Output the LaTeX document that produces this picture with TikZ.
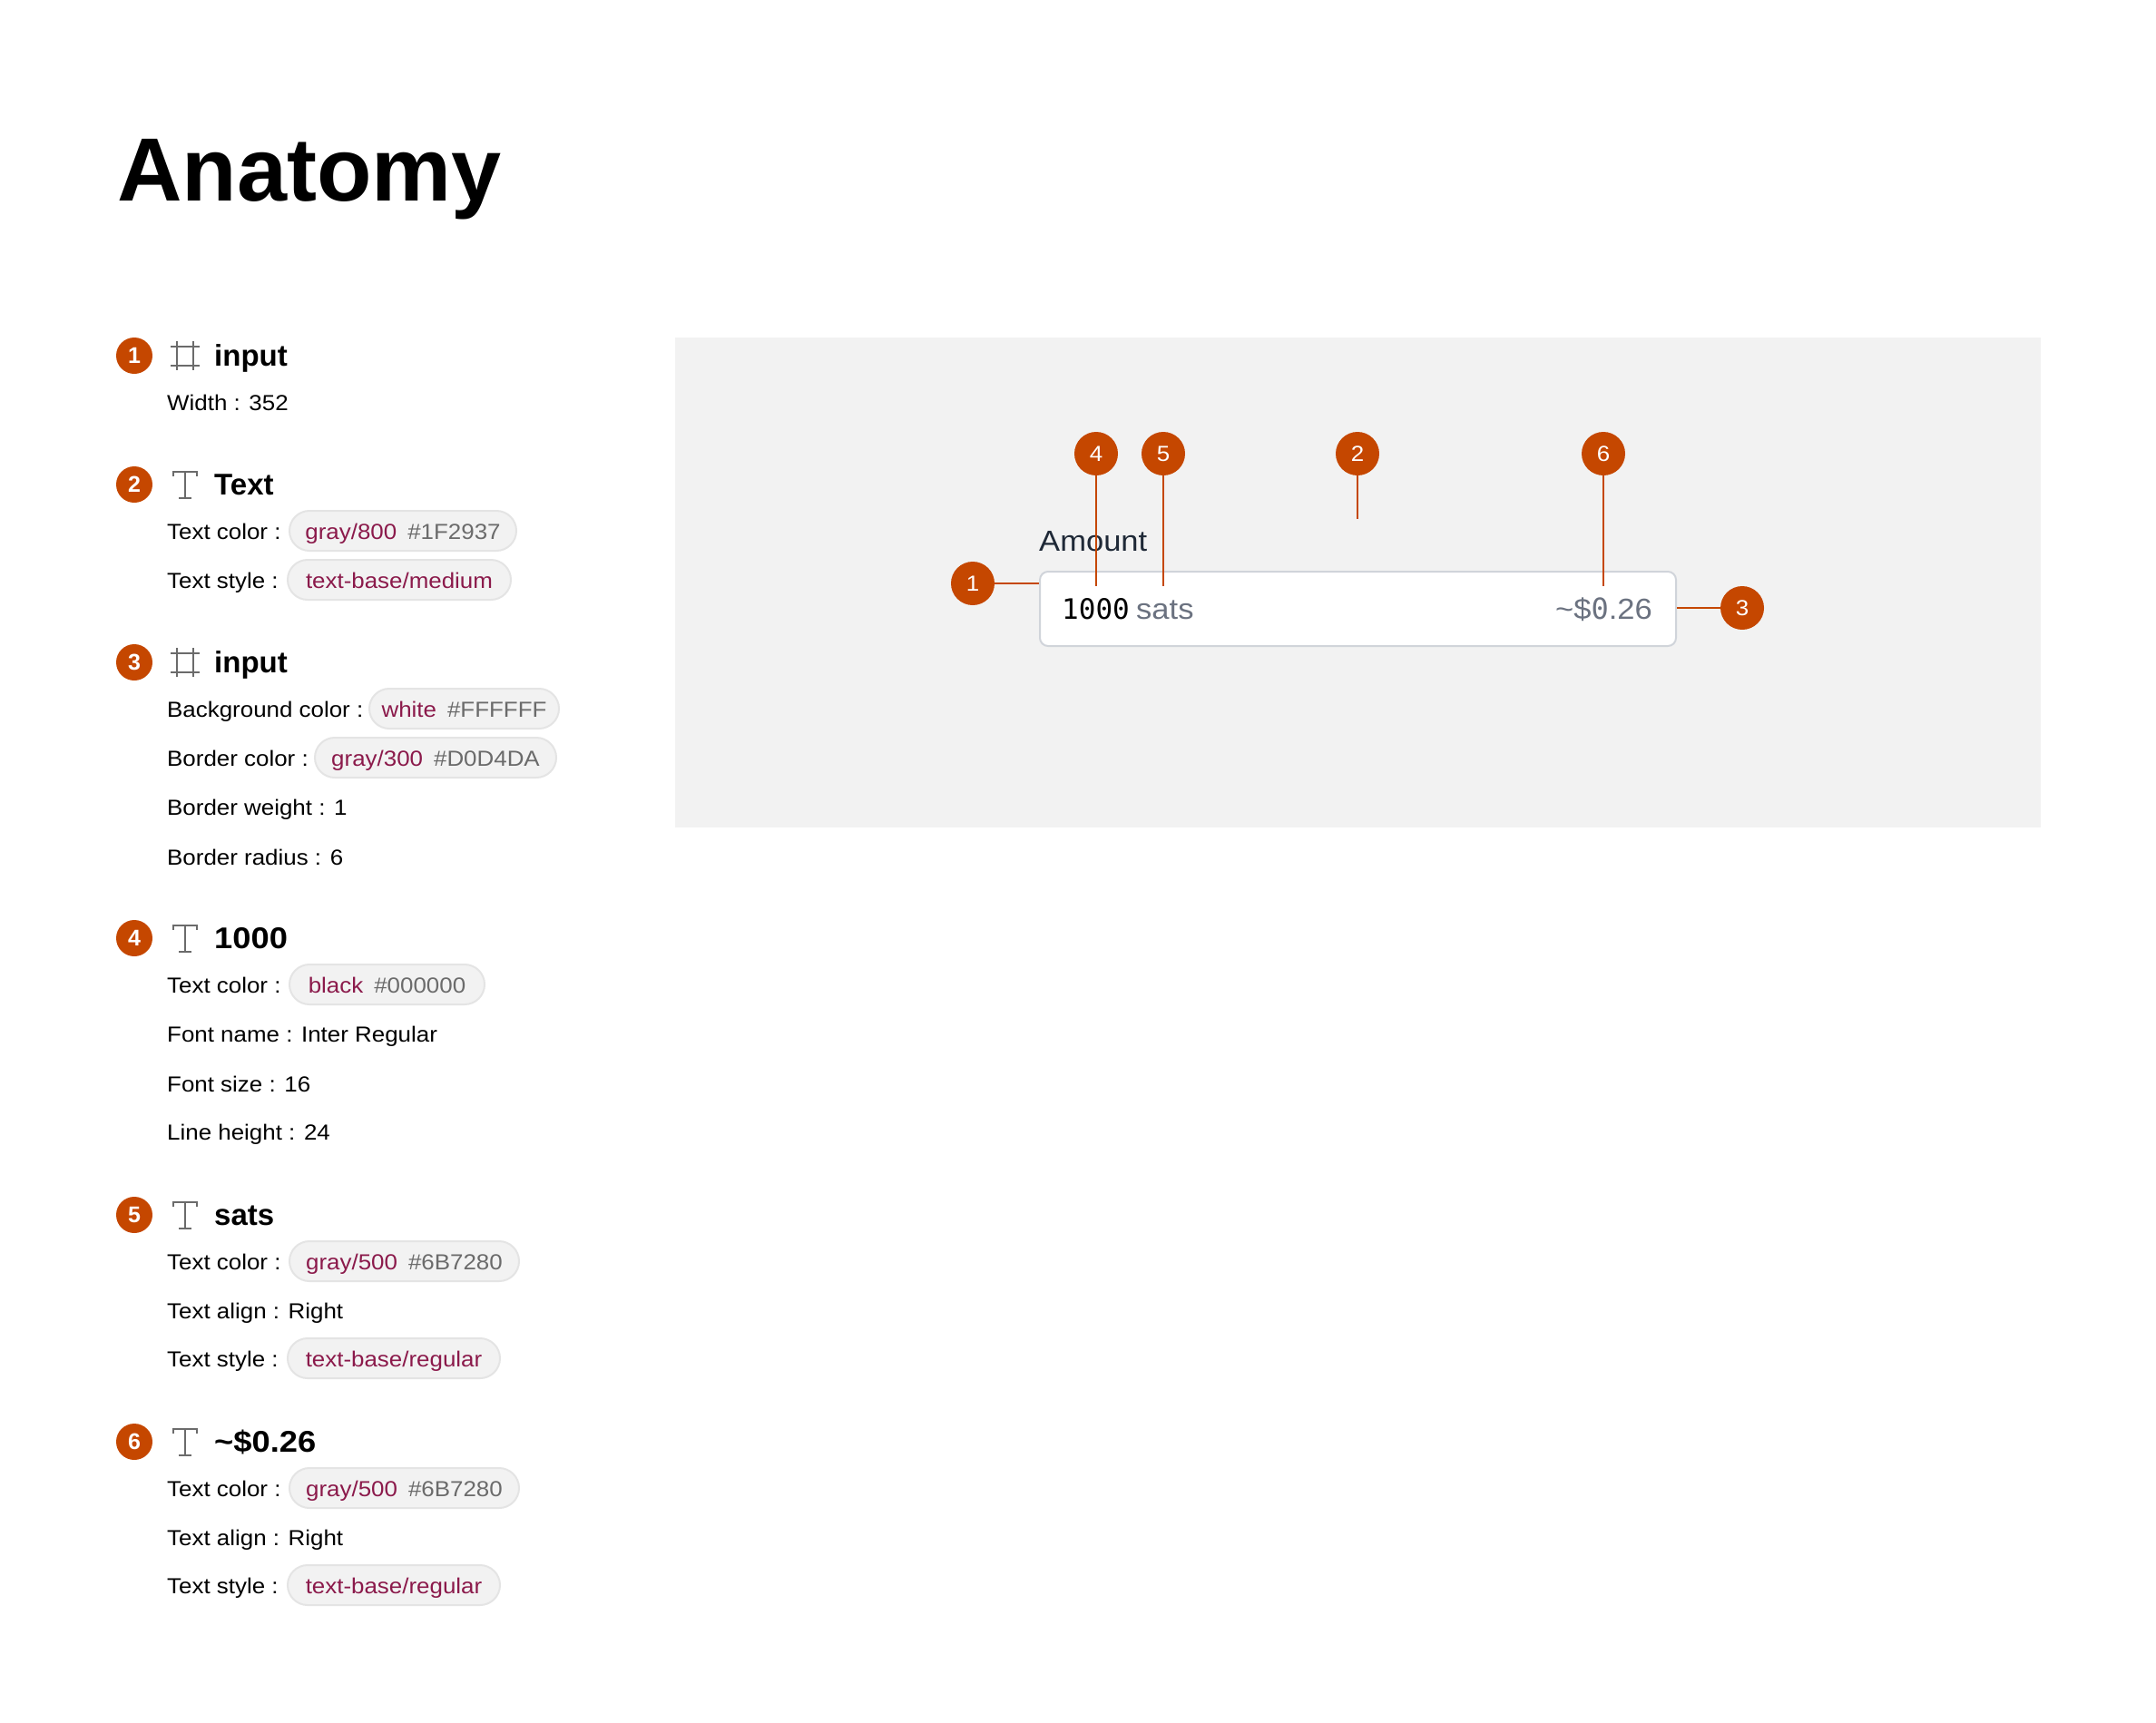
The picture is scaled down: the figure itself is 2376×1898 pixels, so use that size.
\documentclass[tikz,border=0pt]{standalone}
\usepackage{fontspec}
\setmainfont{Liberation Sans}[FakeStretch=1.08]
\newfontfamily\headfont{Liberation Sans Bold}
\newfontfamily\headwidefont{Liberation Sans Bold}[FakeStretch=1.1]
\newfontfamily\slashfont{DejaVu Sans Mono}
\definecolor{anatomyorange}{HTML}{C54700}
\definecolor{panelgray}{HTML}{F2F2F2}
\definecolor{chipborder}{HTML}{E4E4E4}
\definecolor{chipred}{HTML}{8B1A4B}
\definecolor{chipgray}{HTML}{6B6B6B}
\definecolor{iconcolor}{HTML}{6B6B6B}
\definecolor{labelcolor}{HTML}{1F2937}
\definecolor{mutedcolor}{HTML}{6B7280}
\definecolor{inputborder}{HTML}{D0D4DA}
\newcommand{\chiptext}[2]{\textcolor{chipred}{#1}\hspace{12pt}\textcolor{chipgray}{#2}}

\begin{document}
\begin{tikzpicture}
[x=1pt,y=-1pt,
badge/.style={circle,fill=anatomyorange,text=white,inner sep=0pt,minimum size=40pt,font=\headfont\fontsize{25}{25}\selectfont},
callout/.style={circle,fill=anatomyorange,text=white,inner sep=0pt,minimum size=48pt,font=\fontsize{24}{24}\selectfont},
head/.style={anchor=base west,inner sep=0pt,font=\headfont\fontsize{33}{33}\selectfont},
row/.style={anchor=base west,inner sep=0pt,font=\fontsize{24}{24}\selectfont},
chip/.style={anchor=west,rounded corners=22pt,draw=chipborder,fill=panelgray,line width=2pt,inner sep=0pt,minimum height=44pt,text height=18pt,text depth=0pt,font=\fontsize{24}{24}\selectfont},
lead/.style={draw=anatomyorange,line width=2pt},
frameicon/.pic={
\draw[iconcolor,line width=2pt] (-9,-16) -- (-9,16) (9,-16) -- (9,16) (-16,-10.5) -- (16,-10.5) (-16,10.5) -- (16,10.5);},
texticon/.pic={
\draw[iconcolor,line width=2pt] (-13,-9) -- (-13,-14.5) -- (13,-14.5) -- (13,-9) (0,-14.5) -- (0,15) (-7,15) -- (7,15);}]
\useasboundingbox (0,0) rectangle (2376,1898);
\fill[white] (0,0) rectangle (2376,1898);
\node (title) at (129,221) [anchor=base west,inner sep=0pt,font=\headfont\fontsize{99}{99}\selectfont] {Anatomy};

% left column
\node (b1) at (148,392) [badge] {1};
\pic at (204,392) {frameicon};
\node (h1) at (236,403) [head] {input};
\node (r1a) at (184,452) [row] {Width : 352};

\node (b2) at (148,534) [badge] {2};
\pic at (204,534) {texticon};
\node (h2) at (236,545) [head] {Text};
\node (r2a) at (184,594) [row] {Text color :};
\node (c2a) at (318,585) [chip,minimum width=250pt] {\chiptext{gray/800}{\#1F2937}};
\node (r2b) at (184,648) [row] {Text style :};
\node (c2b) at (316,639) [chip,minimum width=246pt] {\textcolor{chipred}{text-base/medium}};

\node (b3) at (148,730) [badge] {3};
\pic at (204,730) {frameicon};
\node (h3) at (236,741) [head] {input};
\node (r3a) at (184,790) [row] {Background color :};
\node (c3a) at (406,781) [chip,minimum width=209pt] {\chiptext{white}{\#FFFFFF}};
\node (r3b) at (184,844) [row] {Border color :};
\node (c3b) at (346,835) [chip,minimum width=266pt] {\chiptext{gray/300}{\#D0D4DA}};
\node (r3c) at (184,898) [row] {Border weight : 1};
\node (r3d) at (184,953) [row] {Border radius : 6};

\node (b4) at (148,1034) [badge] {4};
\pic at (204,1034) {texticon};
\node (h4) at (236,1045) [head,font=\headwidefont\fontsize{33}{33}\selectfont] {1000};
\node (r4a) at (184,1094) [row] {Text color :};
\node (c4a) at (318,1085) [chip,minimum width=215pt] {\chiptext{black}{\#000000}};
\node (r4b) at (184,1148) [row] {Font name : Inter Regular};
\node (r4c) at (184,1203) [row] {Font size : 16};
\node (r4d) at (184,1256) [row] {Line height : 24};

\node (b5) at (148,1339) [badge] {5};
\pic at (204,1339) {texticon};
\node (h5) at (236,1350) [head] {sats};
\node (r5a) at (184,1399) [row] {Text color :};
\node (c5a) at (318,1390) [chip,minimum width=253pt] {\chiptext{gray/500}{\#6B7280}};
\node (r5b) at (184,1453) [row] {Text align : Right};
\node (r5c) at (184,1506) [row] {Text style :};
\node (c5c) at (316,1497) [chip,minimum width=234pt] {\textcolor{chipred}{text-base/regular}};

\node (b6) at (148,1589) [badge] {6};
\pic at (204,1589) {texticon};
\node (h6) at (236,1600) [head,font=\headwidefont\fontsize{33}{33}\selectfont] {\textasciitilde\$0.26};
\node (r6a) at (184,1649) [row] {Text color :};
\node (c6a) at (318,1640) [chip,minimum width=253pt] {\chiptext{gray/500}{\#6B7280}};
\node (r6b) at (184,1703) [row] {Text align : Right};
\node (r6c) at (184,1756) [row] {Text style :};
\node (c6c) at (316,1747) [chip,minimum width=234pt] {\textcolor{chipred}{text-base/regular}};

% right panel
\node (panel) at (744,372) [anchor=north west,fill=panelgray,inner sep=0pt,minimum width=1505pt,minimum height=540pt] {};
\node (amount) at (1145,607) [anchor=base west,inner sep=0pt,text=labelcolor,font=\fontsize{32}{32}\selectfont] {Amount};
\node (inputbox) at (1145,629) [anchor=north west,draw=inputborder,fill=white,line width=2pt,rounded corners=9pt,inner sep=0pt,minimum width=701pt,minimum height=82pt] {};
\node (value) at (1170,682) [anchor=base west,inner sep=0pt,font=\slashfont\fontsize{31}{31}\selectfont] {1000};
\node (unit) at (1252,682) [anchor=base west,inner sep=0pt,text=mutedcolor,font=\fontsize{32}{32}\selectfont] {sats};
\node (fiat) at (1821,682) [anchor=base east,inner sep=0pt,text=mutedcolor,font=\fontsize{32}{32}\selectfont] {\textasciitilde\$\slashfont 0\normalfont.26};

\node (a1) at (1072,643) [callout] {1};
\node (a2) at (1496,500) [callout] {2};
\node (a3) at (1920,670) [callout] {3};
\node (a4) at (1208,500) [callout] {4};
\node (a5) at (1282,500) [callout] {5};
\node (a6) at (1767,500) [callout] {6};
\coordinate (e2) at (1496,572);
\coordinate (e4) at (1208,646);
\coordinate (e5) at (1282,646);
\coordinate (e6) at (1767,646);

\draw[lead] (a1) -- (a1 -| inputbox.west);
\draw[lead] (a2) -- (e2);
\draw[lead] (a3) -- (inputbox.east |- a3);
\draw[lead] (a4) -- (e4);
\draw[lead] (a5) -- (e5);
\draw[lead] (a6) -- (e6);
\end{tikzpicture}
\end{document}
